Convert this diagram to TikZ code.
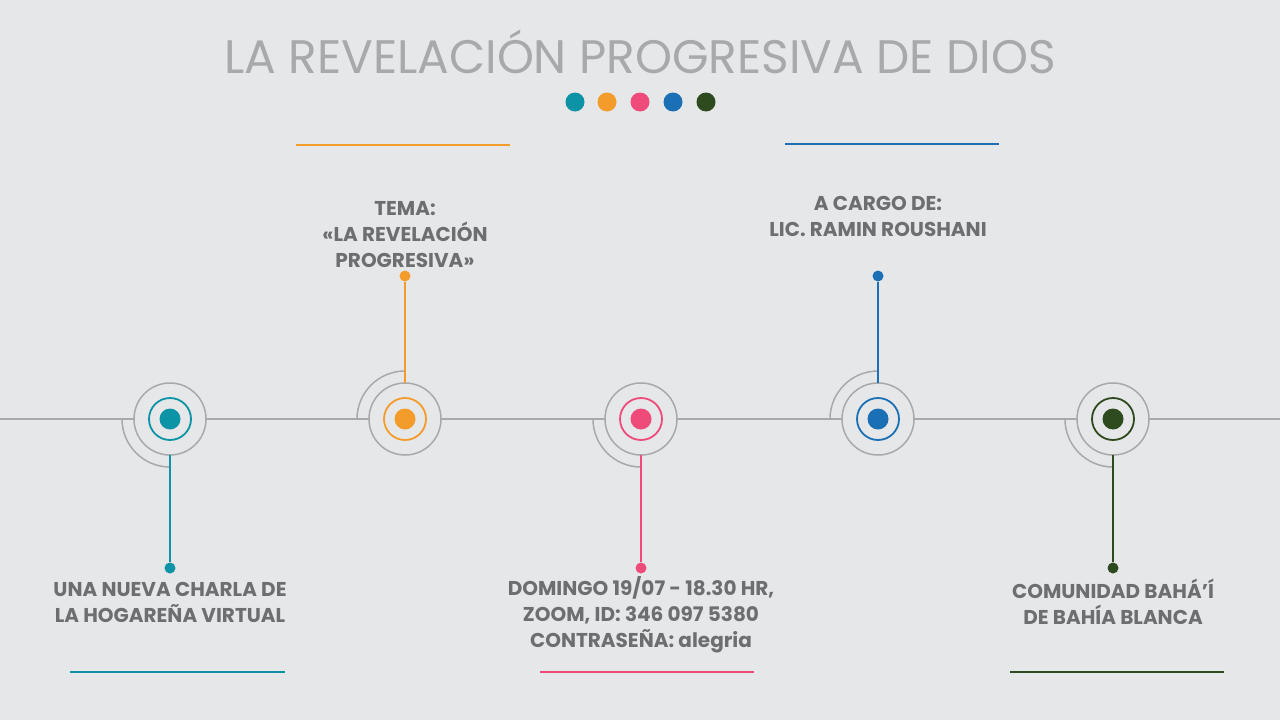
\documentclass[tikz,border=0pt]{standalone}
\usepackage{fontspec}
\setmainfont{Poppins}
\definecolor{cteal}{HTML}{0C94A6}
\definecolor{corange}{HTML}{F39C2B}
\definecolor{cpink}{HTML}{EE4B7B}
\definecolor{cblue}{HTML}{1A6FB5}
\definecolor{cgreen}{HTML}{2E4A1F}
\definecolor{bg}{HTML}{E6E7E8}
\definecolor{ring}{HTML}{A7A9AB}
\definecolor{txt}{HTML}{6D6E70}
\tikzset{lbl/.style={text=txt,font=\fontsize{20}{26}\selectfont\bfseries,align=center},
 stem/.style={line width=1.3pt}}
\begin{document}
\begin{tikzpicture}[x=1pt,y=-1pt]
\fill[bg] (0,0) rectangle (1280,720);
\useasboundingbox (0,0) rectangle (1280,720);
\node[text=ring,font=\fontsize{47}{50}\selectfont] (title) at (640,52) {LA REVELACIÓN PROGRESIVA DE DIOS};
\foreach \x/\c in {575/cteal,607/corange,640/cpink,673/cblue,706/cgreen}
  \fill[\c] (\x,102) circle (9.5);
\draw[ring,line width=1.2pt] (0,419) -- (1280,419);
\draw[corange,line width=1.3pt] (296,145) -- (510,145);
\draw[cblue,line width=1.3pt] (785,144) -- (999,144);
\draw[cteal,line width=1.3pt] (70,672) -- (285,672);
\draw[cpink,line width=1.3pt] (540,672) -- (754,672);
\draw[cgreen,line width=1.3pt] (1010,672) -- (1224,672);
\foreach \n/\x/\c/\dir/\len in {a/170/cteal/1/149,b/405/corange/-1/143,c/641/cpink/1/149,d/878/cblue/-1/143,e/1113/cgreen/1/149}{
  \fill[bg] (\x,419) circle (36);
  \draw[ring,line width=1.5pt] (\x,419) circle (36);
  \ifnum\dir=1
    \draw[ring,line width=1.5pt] (\x-48,419) arc[start angle=180,end angle=90,radius=48];
  \else
    \draw[ring,line width=1.5pt] (\x-48,419) arc[start angle=180,end angle=270,radius=48];
  \fi
  \draw[\c,line width=1.8pt] (\x,419) circle (21);
  \fill[\c] (\x,419) circle (10.5);
  \coordinate (\n0) at (\x,419+\dir*36);
  \node[circle,fill=\c,inner sep=0,minimum size=11pt] (\n) at (\x,419+\dir*\len) {};
  \draw[\c,stem] (\n0) -- (\n);
}
\node[lbl] (ta) at (170,602) {UNA NUEVA CHARLA DE\\LA HOGAREÑA VIRTUAL};
\node[lbl] (tb) at (405,235) {TEMA:\\«LA REVELACIÓN\\PROGRESIVA»};
\node[lbl] (tc) at (641,615) {DOMINGO 19/07 - 18.30 HR,\\ZOOM, ID: 346 097 5380\\CONTRASEÑA: alegria};
\node[lbl] (td) at (878,216) {A CARGO DE:\\LIC. RAMIN ROUSHANI};
\node[lbl] (te) at (1113,602) {COMUNIDAD BAHÁ'Í\\DE BAHÍA BLANCA};
\end{tikzpicture}
\end{document}
